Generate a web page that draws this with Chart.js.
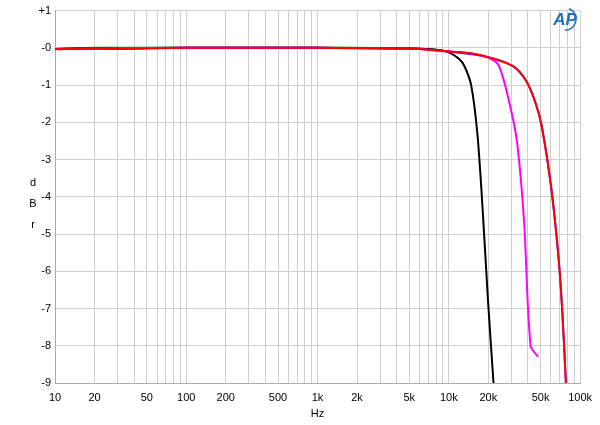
<!DOCTYPE html>
<html>
<head>
<meta charset="utf-8">
<script src="https://cdn.jsdelivr.net/npm/chart.js@4"></script>
<style>
  html, body { margin: 0; padding: 0; background: #fff; }
  #wrap { width: 600px; height: 425px; }
</style>
</head>
<body>
<div id="wrap"><canvas id="chart"></canvas></div>
<script>
// frequency response data (Hz, dBr)
const greenFreq = [10, 20, 50, 100, 1000, 5000, 8000];
const greenDb = [-0.03, 0.0, 0.0, 0.0, 0.0, -0.01, -0.05];
const blueFreq = [10, 100, 1000, 5000, 10000, 20000, 31000, 39000, 46000, 51000, 60000, 68000, 73000, 78000];
const blueDb = [-0.03, 0.0, 0.0, -0.02, -0.1, -0.25, -0.5, -0.9, -1.5, -2.1, -3.7, -5.5, -7.0, -9.0];
const blackFreq = [10, 20, 100, 1000, 5000, 8000, 10000, 12000, 13200, 14800, 16500, 18000, 19900, 22100];
const blackDb = [-0.03, -0.01, 0.0, 0.0, -0.02, -0.05, -0.12, -0.3, -0.5, -1.0, -2.3, -4.2, -6.8, -9.2];
const magentaFreq = [10, 100, 1000, 5000, 10000, 15000, 21000, 24200, 28600, 33000, 37500, 42000, 48000];
const magentaDb = [-0.03, 0.0, 0.0, -0.02, -0.1, -0.15, -0.3, -0.5, -1.4, -2.5, -4.7, -8.0, -8.3];
const redFreq = [10, 20, 30, 100, 1000, 5000, 10000, 15000, 20000, 31000, 39000, 46000, 51000, 60000, 68000, 73000, 78000];
const redDb = [-0.04, -0.02, -0.03, 0.0, 0.0, -0.02, -0.1, -0.15, -0.25, -0.5, -0.9, -1.5, -2.1, -3.7, -5.5, -7.0, -9.0];

const xLabels = { 10: "10", 20: "20", 50: "50", 100: "100", 200: "200", 500: "500", 1000: "1k", 2000: "2k", 5000: "5k", 10000: "10k", 20000: "20k", 50000: "50k", 100000: "100k" };
const yTicks = [1, 0, -1, -2, -3, -4, -5, -6, -7, -8, -9];

function pts(fs, ds) { return fs.map((f, i) => ({ x: f, y: ds[i] })); }
function line(data, color, order) {
  return { data: data, borderColor: color, borderWidth: 2, pointRadius: 0, tension: 0.3, fill: false, order: order };
}

const extras = {
  id: "extras",
  afterDraw(chart) {
    const ctx = chart.ctx;
    ctx.save();
    ctx.fillStyle = "#000";
    ctx.font = "11px Arial, 'Liberation Sans'";
    ctx.textAlign = "center";
    ctx.fillText("d", 33, 186);
    ctx.fillText("B", 33, 207);
    ctx.fillText("r", 33, 228);
    ctx.fillStyle = "#1f6fc0";
    ctx.font = "italic bold 17px Arial, 'Liberation Sans'";
    ctx.fillText("AP", 565, 25);
    ctx.strokeStyle = "#1f6fc0";
    ctx.lineWidth = 1.5;
    ctx.beginPath();
    ctx.arc(565, 19, 11, -1.2, 1.6);
    ctx.stroke();
    ctx.restore();
  }
};

// lower order is drawn on top
new Chart(document.getElementById("chart"), {
  type: "line",
  data: {
    datasets: [
      line(pts(greenFreq, greenDb), "#1aa81a", 5),
      line(pts(blueFreq, blueDb), "#2a2aff", 4),
      line(pts(blackFreq, blackDb), "#000000", 3),
      line(pts(magentaFreq, magentaDb), "#ff00ff", 2),
      line(pts(redFreq, redDb), "#ff0000", 1)
    ]
  },
  options: {
    responsive: true,
    maintainAspectRatio: false,
    animation: false,
    layout: { padding: { left: 0, right: 12, top: 7, bottom: 0 } },
    plugins: { legend: { display: false }, tooltip: { enabled: false } },
    scales: {
      x: {
        type: "logarithmic",
        min: 10,
        max: 100000,
        afterBuildTicks(scale) {
          const t = [];
          for (let d = 10; d < 100000; d *= 10)
            for (let m = 1; m < 10; m++) t.push({ value: d * m });
          t.push({ value: 100000 });
          scale.ticks = t;
        },
        afterFit(scale) { scale.height = 42; },
        ticks: {
          autoSkip: false,
          maxRotation: 0,
          padding: 8,
          color: "#000",
          font: { size: 11, family: "Arial, 'Liberation Sans'" },
          callback: (v) => xLabels[v] || ""
        },
        grid: { color: "#cfcfcf", drawTicks: false },
        border: { color: "#aaaaaa" },
        title: { display: true, text: "Hz", color: "#000", font: { size: 11, family: "Arial, 'Liberation Sans'" }, padding: { top: 4 } }
      },
      y: {
        min: -9,
        max: 1,
        afterBuildTicks(scale) { scale.ticks = yTicks.map((v) => ({ value: v })); },
        afterFit(scale) { scale.width = 55; },
        ticks: {
          color: "#000",
          padding: 4,
          font: { size: 11, family: "Arial, 'Liberation Sans'" },
          callback: (v) => (v > 0 ? "+" + v : v === 0 ? "-0" : String(v))
        },
        grid: { color: "#cfcfcf", drawTicks: false },
        border: { color: "#aaaaaa" }
      }
    }
  },
  plugins: [extras]
});
</script>
</body>
</html>
